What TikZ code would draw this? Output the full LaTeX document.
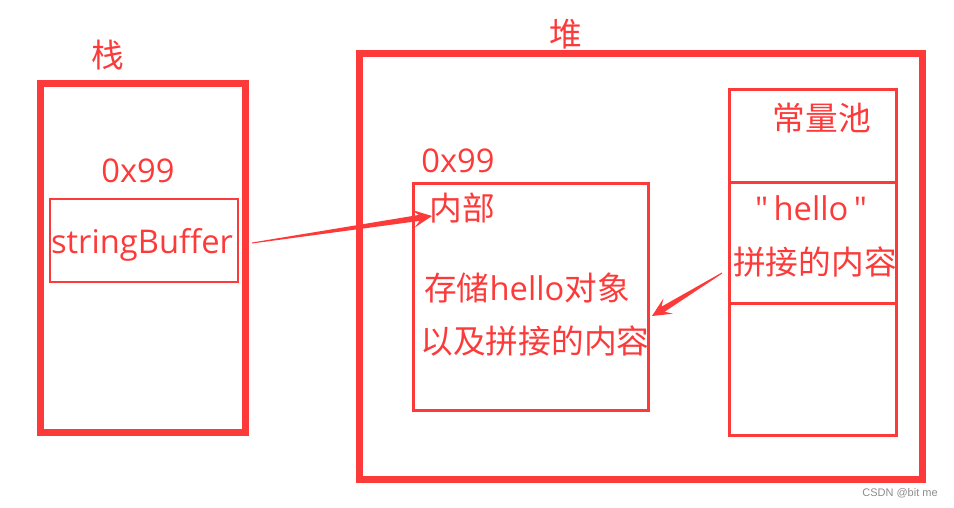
\documentclass[tikz,border=0pt]{standalone}
\usepackage{fontspec}
\setmainfont{Open Sans}
\newfontfamily\cjk{Noto Sans CJK SC}
\newfontfamily\wmfont{Liberation Sans}
\usetikzlibrary{calc}
\definecolor{rd}{HTML}{FC3A3A}
\tikzset{
  lbl/.style={text=rd,inner sep=0pt,font=\fontsize{32.7}{38}\selectfont},
}
\newcommand\taperarrow[4]{% start, tip, start half-width, shaft half-width
  \fill[rd] ($(#1)!#3!90:(#2)$) -- ($($(#2)!13pt!(#1)$)!#4!-90:(#1)$)
    -- ($($(#2)!19pt!(#1)$)!9pt!-90:(#1)$) -- (#2)
    -- ($($(#2)!19pt!(#1)$)!9pt!90:(#1)$) -- ($($(#2)!13pt!(#1)$)!#4!90:(#1)$)
    -- ($(#1)!#3!-90:(#2)$) -- cycle;}
\begin{document}
\begin{tikzpicture}[x=1pt,y=-1pt]
\useasboundingbox (0,0) rectangle (954,507);
% stack
\draw[rd,line width=7pt] (40.5,83.5) rectangle (245.5,432.5);
\node[lbl] (stk) at (108,55) {\cjk 栈};
\node[lbl] (addr1) at (138,171) {0x99};
\draw[rd,line width=2.6pt] (50,199) rectangle (238,282);
\node[lbl] (sb) at (142,245) {stringBuffer};
% heap
\draw[rd,line width=7pt] (359.5,53.5) rectangle (922.5,479.5);
\node[lbl] (heap) at (566,34) {\cjk 堆};
\node[lbl] (addr2) at (458,161) {0x99};
\draw[rd,line width=2.6pt] (413.5,183.5) rectangle (648.5,410.5);
\node[lbl] (inner) at (462,208) {\cjk 内部};
\node[lbl] (l1) at (527,288) {{\cjk 存储}hello{\cjk 对象}};
\node[lbl] (l2) at (535,341) {\cjk 以及拼接的内容};
% constant pool
\draw[rd,line width=2.6pt] (729.5,89.5) rectangle (896.5,435.5);
\draw[rd,line width=2.6pt] (729.5,182.5) -- (896.5,182.5);
\draw[rd,line width=2.6pt] (729.5,303.5) -- (896.5,303.5);
\node[lbl] (pool) at (822,118) {\cjk 常量池};
\node[lbl] (hello) at (811,208) {\textquotedbl\,hello\,\textquotedbl};
\node[lbl] (cat) at (815,262) {\cjk 拼接的内容};
% arrows
\coordinate (a1s) at (252,243);
\coordinate (a1t) at (432,216);
\taperarrow{a1s}{a1t}{0.5pt}{3pt}
\coordinate (a2s) at (722,273);
\coordinate (a2t) at (652,316);
\taperarrow{a2s}{a2t}{0.5pt}{3pt}
% watermark
\node[text=black!45,inner sep=0pt,font=\wmfont\fontsize{11}{13}\selectfont] (wm) at (900,493) {CSDN @bit me};
\end{tikzpicture}
\end{document}
